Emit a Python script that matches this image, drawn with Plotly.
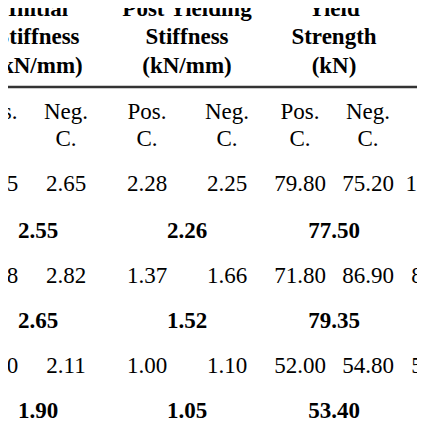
import plotly.graph_objects as go

# table content (the picture is a crop of a wider table)
groups = [["Initial", "Stiffness", "(kN/mm)"],
          ["Post Yielding", "Stiffness", "(kN/mm)"],
          ["Yield", "Strength", "(kN)"]]
sub_header = ["Pos.", "Neg.", "Pos.", "Neg.", "Pos.", "Neg.", "Pos."]
pos_c = [2.45, 2.48, 1.70]
init_neg = [2.65, 2.82, 2.11]
post_pos = [2.28, 1.37, 1.00]
post_neg = [2.25, 1.66, 1.10]
yield_pos = [79.80, 71.80, 52.00]
yield_neg = [75.20, 86.90, 54.80]
next_col = [100.20, 85.10, 55.30]  # only first digit visible
avg_init = [2.55, 2.65, 1.90]
avg_post = [2.26, 1.52, 1.05]
avg_yield = [77.50, 79.35, 53.40]

# layout (pixel positions)
col_x = [-2, 66, 147, 227, 300, 368, 437]
group_x = [38, 187, 334]
head_y = [10, 38, 67]
sub_y = [113, 140]
row_y = [185, 277, 367]
avg_y = [232, 322, 412]
FONT = "Liberation Serif, Times New Roman, serif"

fig = go.Figure()

def add_text(xs, ys, texts, bold=False):
    if bold:
        texts = [f"<b>{t}</b>" for t in texts]
    fig.add_trace(go.Scatter(x=xs, y=ys, text=texts, mode="text",
                             textposition="middle center", cliponaxis=True,
                             textfont=dict(family=FONT, size=23, color="black"),
                             hoverinfo="skip", showlegend=False))

for gx, lines in zip(group_x, groups):
    add_text([gx] * 3, head_y, lines, bold=True)

add_text(col_x, [sub_y[0]] * len(col_x), sub_header)
add_text(col_x, [sub_y[1]] * len(col_x), ["C."] * len(col_x))

columns = [pos_c, init_neg, post_pos, post_neg, yield_pos, yield_neg, next_col]
for cx, vals in zip(col_x, columns):
    add_text([cx] * len(vals), row_y, [f"{v:.2f}" for v in vals])

for gx, vals in zip(group_x, [avg_init, avg_post, avg_yield]):
    add_text([gx] * len(vals), avg_y, [f"{v:.2f}" for v in vals], bold=True)

fig.add_shape(type="line", x0=-20, x1=450, y0=87, y1=87,
              line=dict(color="#333", width=2.5))

# page has an 8px body margin, so shift ranges to line up with the window
fig.update_xaxes(range=[8, 433], visible=False)
fig.update_yaxes(range=[433, 8], visible=False)
fig.update_layout(width=425, height=425, margin=dict(l=0, r=0, t=0, b=0),
                  plot_bgcolor="white", paper_bgcolor="white")

fig.write_html("out.html")
